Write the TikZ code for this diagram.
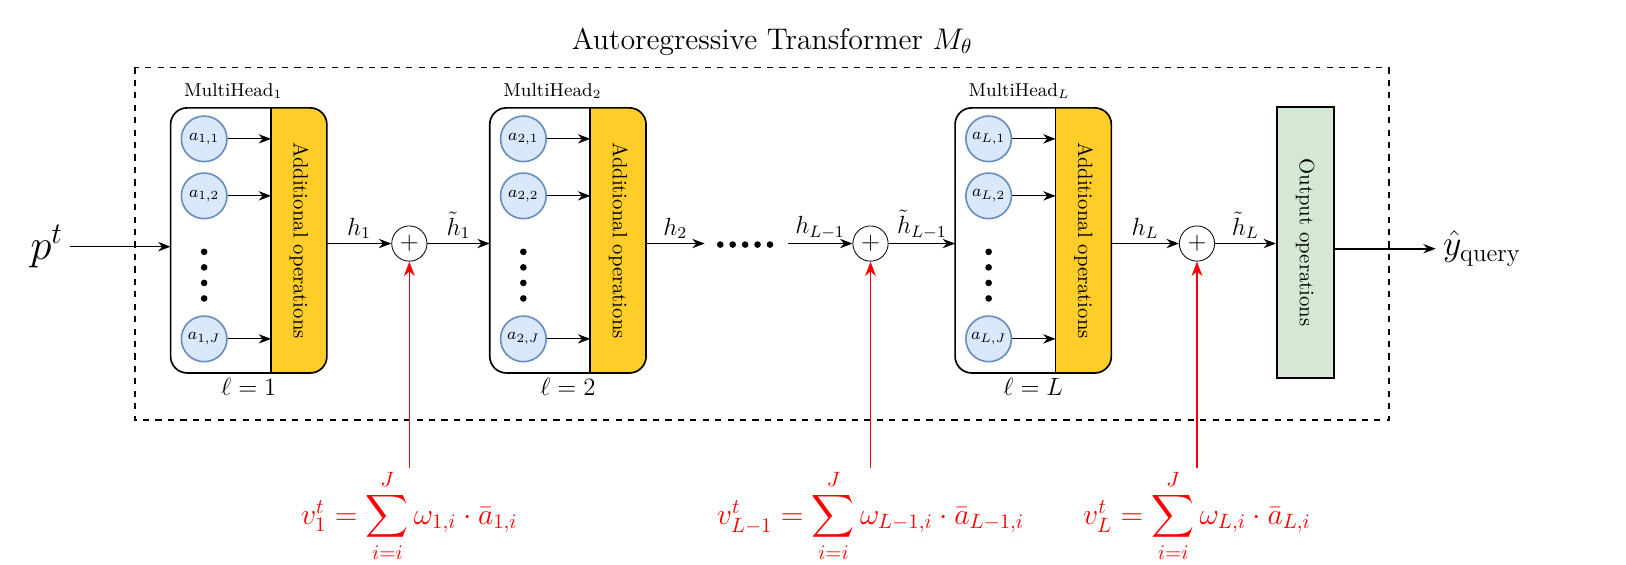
\documentclass[tikz,border=0pt]{standalone}
\usepackage{amsmath}
\usetikzlibrary{positioning,arrows.meta}
\definecolor{headblue}{HTML}{DAE8FC}
\definecolor{headline}{HTML}{6C8EBF}
\definecolor{addyellow}{HTML}{FFCD28}
\definecolor{outgreen}{HTML}{D5E8D4}
\tikzset{
  head/.style={draw=headline, fill=headblue, circle, thick, minimum size=22pt, inner sep=0pt, font=\footnotesize},
  block/.style={minimum width=75pt, minimum height=127.5pt, inner sep=0pt},
  addop/.style={minimum width=26.5pt, minimum height=127.5pt, inner sep=0pt},
  plus/.style={draw, circle, minimum size=17pt, inner sep=0pt, font=\large},
  flow/.style={-{Stealth[length=6pt]}},
  vote/.style={red, thick, -{Stealth[length=7pt]}},
  lbl/.style={font=\large, inner sep=2pt},
}
\begin{document}
\begin{tikzpicture}[x=0.5pt, y=-0.5pt]
    \draw[dashed, thick] (130,65) rectangle (1340,405);
    \node[font=\Large] (title) at (745,40) {Autoregressive Transformer $M_\theta$};

    % attention blocks
    \foreach \bx/\n/\s in {240/1/1, 548/2/2, 997/3/L} {
        \node[block] (box\n) at (\bx,232) {};
        \node[addop] (add\n) at (\bx+48.5,232) {};
        \begin{scope}
            \clip[rounded corners=8pt] (box\n.south west) rectangle (box\n.north east);
            \fill[addyellow] (add\n.south west) rectangle (add\n.north east);
        \end{scope}
        \draw[thick, rounded corners=8pt] (box\n.south west) rectangle (box\n.north east);
        \draw[thick] (add\n.north west) -- (add\n.south west);
        \node[rotate=-90] at (add\n) {Additional operations};
        \node[head] (h\n1) at (\bx-43,134) {$a_{\s,1}$};
        \node[head] (h\n2) at (\bx-43,189) {$a_{\s,2}$};
        \node[head] (h\n3) at (\bx-43,327) {$a_{\s,J}$};
        \foreach \dy in {243,258,273,288}
            \fill (\bx-43,\dy) circle (1.6pt);
        \foreach \k in {1,2,3}
            \draw[flow] (h\n\k) -- (h\n\k -| add\n.west);
        \node[font=\small, above=1pt of box\n.north west, anchor=south west, xshift=3pt] {MultiHead$_{\s}$};
        \node[font=\large, below=-1pt of box\n] {$\ell=\s$};
    }

    % residual additions
    \node[plus] (plus1) at (395,235) {$+$};
    \node[plus] (plus2) at (840,235) {$+$};
    \node[plus] (plus3) at (1155,235) {$+$};
    \node[draw, thick, fill=outgreen, minimum width=27.5pt, minimum height=131pt, inner sep=0pt] (out) at (1259.5,234) {};
    \node[rotate=-90] at (out) {Output operations};

    \node[font=\huge] (pt) at (45,238) {$p^t$};
    \node[font=\LARGE] (yq) at (1430,240) {$\hat y_{\text{query}}$};
    \coordinate (d1) at (680,235);
    \coordinate (d2) at (760,235);
    \foreach \dx in {695,707,719,731,743}
        \fill (\dx,236) circle (1.6pt);

    \draw[flow, thick] (pt) -- (pt -| box1.west);
    \draw[flow] (add1.east |- plus1) -- node[above, lbl] {$h_1$} (plus1);
    \draw[flow] (plus1) -- node[above, lbl] {$\tilde h_1$} (plus1 -| box2.west);
    \draw[flow] (add2.east |- d1) -- node[above, lbl] {$h_2$} (d1);
    \draw[flow] (d2) -- node[above, lbl] {$h_{L-1}$} (plus2);
    \draw[flow] (plus2) -- node[above, lbl] {$\tilde h_{L-1}$} (plus2 -| box3.west);
    \draw[flow] (add3.east |- plus3) -- node[above, lbl] {$h_L$} (plus3);
    \draw[flow] (plus3) -- node[above, lbl] {$\tilde h_L$} (plus3 -| out.west);
    \draw[flow, thick] (out.east |- yq) -- (yq);

    % steering vectors
    \node[red, font=\Large] (v1) at (395,498) {$v_1^t = \displaystyle\sum_{i=i}^{J} \omega_{1,i}\cdot\bar a_{1,i}$};
    \node[red, font=\Large] (v2) at (840,498) {$v_{L-1}^t = \displaystyle\sum_{i=i}^{J} \omega_{L-1,i}\cdot\bar a_{L-1,i}$};
    \node[red, font=\Large] (v3) at (1155,498) {$v_L^t = \displaystyle\sum_{i=i}^{J} \omega_{L,i}\cdot\bar a_{L,i}$};
    \coordinate (s1) at (395,452);
    \coordinate (s2) at (840,452);
    \coordinate (s3) at (1155,452);
    \foreach \n in {1,2,3}
        \draw[vote] (s\n) -- (plus\n);

    \pgfresetboundingbox
    \useasboundingbox (0,0) rectangle (1569,545);
\end{tikzpicture}
\end{document}
